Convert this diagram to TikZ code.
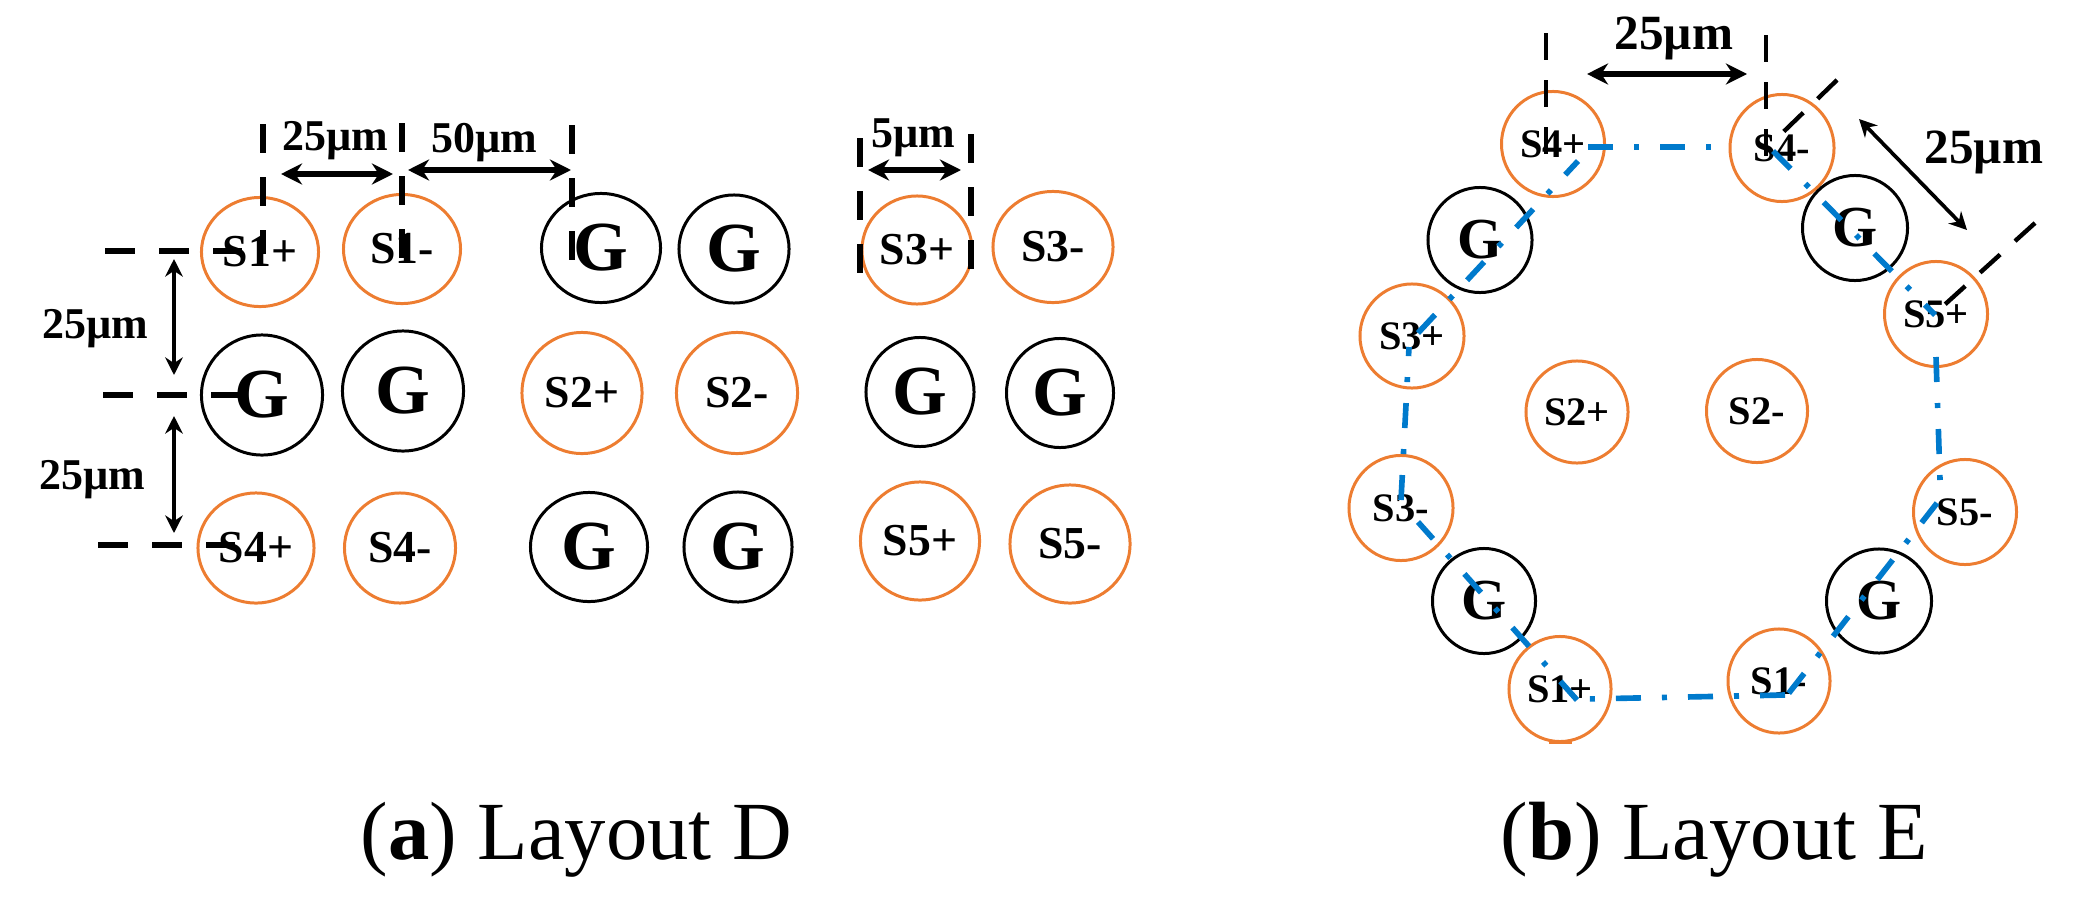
\documentclass[tikz,border=0pt]{standalone}
\usepackage{fontspec}
\setmainfont{Liberation Serif}
\usetikzlibrary{arrows.meta,shapes.geometric}
\definecolor{padorange}{RGB}{237,125,49}
\definecolor{ringblue}{RGB}{0,122,204}
\tikzset{
  % pad outlines
  pad/.style 2 args={ellipse, draw, line width=0.85pt, inner sep=0pt, minimum width=#1cm, minimum height=#2cm},
  sigd/.style 2 args={pad={#1}{#2}, draw=padorange, font=\fontsize{13}{13}\selectfont\bfseries},
  sige/.style 2 args={pad={#1}{#2}, draw=padorange, font=\fontsize{11.5}{12}\selectfont\bfseries},
  gndd/.style 2 args={pad={#1}{#2}, draw=black, font=\fontsize{20}{20}\selectfont\bfseries},
  gnde/.style 2 args={pad={#1}{#2}, draw=black, font=\fontsize{16.5}{17}\selectfont\bfseries},
  % dimension marks
  exth/.style={line width=1.9pt, dash pattern=on 0.3cm off 0.24cm},
  extv/.style={line width=1.5pt, dash pattern=on 0.29cm off 0.24cm},
  extring/.style={line width=1.25pt, dash pattern=on 0.27cm off 0.2cm},
  dimarr/.style={{Stealth[length=6pt,width=6pt]}-{Stealth[length=6pt,width=6pt]}, line width=1.7pt},
  dimthin/.style={{Stealth[length=5pt,width=5pt]}-{Stealth[length=5pt,width=5pt]}, line width=1.05pt},
  dimlab/.style={font=\fontsize{12.5}{13}\selectfont\bfseries, inner sep=0pt},
  dimlabe/.style={font=\fontsize{14}{14}\selectfont\bfseries, inner sep=0pt},
  ringline/.style={ringblue, line width=1.6pt, dash pattern=on 0.25cm off 0.21cm on 0.05cm off 0.21cm},
  caption/.style={font=\fontsize{23.5}{24}\selectfont, inner sep=0pt, anchor=base west},
}
\begin{document}
\begin{tikzpicture}[x=0.01cm, y=-0.01cm]
    \useasboundingbox (0,0) rectangle (2073,903);

    % Layout D: pads
    \node[sigd={1.17}{1.09}] (s1p) at (260,252) {S1+};
    \node[sigd={1.17}{1.09}] (s1m) at (402,249) {S1-};
    \node[gndd={1.19}{1.09}] (ga1) at (601,248) {G};
    \node[gndd={1.10}{1.08}] (ga2) at (734,249) {G};
    \node[sigd={1.10}{1.08}] (s3p) at (917,250) {S3+};
    \node[sigd={1.20}{1.11}] (s3m) at (1053,247) {S3-};

    \node[gndd={1.21}{1.20}] (gb1) at (262,395) {G};
    \node[gndd={1.21}{1.20}] (gb2) at (403,391) {G};
    \node[sigd={1.20}{1.21}] (s2p) at (582,393) {S2+};
    \node[sigd={1.21}{1.21}] (s2m) at (737,393) {S2-};
    \node[gndd={1.08}{1.09}] (gb3) at (920,392) {G};
    \node[gndd={1.07}{1.09}] (gb4) at (1060,393) {G};

    \node[sigd={1.16}{1.10}] (s4p) at (256,548) {S4+};
    \node[sigd={1.11}{1.10}] (s4m) at (400,548) {S4-};
    \node[gndd={1.17}{1.09}] (gc1) at (589,547) {G};
    \node[gndd={1.08}{1.10}] (gc2) at (738,547) {G};
    \node[sigd={1.19}{1.18}] (s5p) at (920,541) {S5+};
    \node[sigd={1.20}{1.18}] (s5m) at (1070,544) {S5-};

    % Layout D: extension lines
    \coordinate (ha1) at (105,251);  \coordinate (ha2) at (242,251);
    \coordinate (hb1) at (103,395);  \coordinate (hb2) at (241,395);
    \coordinate (hc1) at (98,545);   \coordinate (hc2) at (235,545);
    \draw[exth] (ha1) -- (ha2);
    \draw[exth] (hb1) -- (hb2);
    \draw[exth] (hc1) -- (hc2);
    \coordinate (va1) at (263,124);  \coordinate (va2) at (263,254);
    \coordinate (vb1) at (402,123);  \coordinate (vb2) at (402,259);
    \coordinate (vc1) at (572,125);  \coordinate (vc2) at (572,261);
    \coordinate (vd1) at (860,138);  \coordinate (vd2) at (860,274);
    \coordinate (ve1) at (971,134);  \coordinate (ve2) at (971,270);
    \draw[extv] (va1) -- (va2);
    \draw[extv] (vb1) -- (vb2);
    \draw[extv] (vc1) -- (vc2);
    \draw[extv] (vd1) -- (vd2);
    \draw[extv] (ve1) -- (ve2);

    % Layout D: dimensions
    \coordinate (da1) at (281,174);  \coordinate (da2) at (393,174);
    \coordinate (db1) at (408,170);  \coordinate (db2) at (571,170);
    \coordinate (dc1) at (868,170);  \coordinate (dc2) at (961,170);
    \coordinate (dd1) at (174,259);  \coordinate (dd2) at (174,375);
    \coordinate (de1) at (174,416);  \coordinate (de2) at (174,533);
    \draw[dimarr] (da1) -- (da2);
    \draw[dimarr] (db1) -- (db2);
    \draw[dimarr] (dc1) -- (dc2);
    \draw[dimthin] (dd1) -- (dd2);
    \draw[dimthin] (de1) -- (de2);
    \node[dimlab] (la) at (335,141) {25µm};
    \node[dimlab] (lb) at (484,143) {50µm};
    \node[dimlab] (lc) at (913,138) {5µm};
    \node[dimlab] (ld) at (95,329) {25µm};
    \node[dimlab] (le) at (92,480) {25µm};

    % Layout E: pads
    \node[sige={1.03}{1.05}] (t4p) at (1553,144) {S4+};
    \node[sige={1.04}{1.07}] (t4m) at (1782,148) {S4-};
    \node[gnde={1.04}{1.05}] (gr1) at (1480,240) {G};
    \node[gnde={1.05}{1.05}] (gr2) at (1855,228) {G};
    \node[sige={1.03}{1.05}] (t5p) at (1936,314) {S5+};
    \node[sige={1.04}{1.04}] (t3p) at (1412,336) {S3+};
    \node[sige={1.02}{1.02}] (t2p) at (1577,412) {S2+};
    \node[sige={1.01}{1.03}] (t2m) at (1757,411) {S2-};
    \node[sige={1.04}{1.05}] (t3m) at (1401,508) {S3-};
    \node[sige={1.03}{1.05}] (t5m) at (1965,512) {S5-};
    \node[gnde={1.03}{1.05}] (gr3) at (1484,601) {G};
    \node[gnde={1.05}{1.04}] (gr4) at (1879,601) {G};
    \node[sige={1.02}{1.05}] (t1p) at (1560,689) {S1+};
    \node[sige={1.02}{1.04}] (t1m) at (1779,681) {S1-};

    % Layout E: dash-dot ring, one side at a time
    \coordinate (r1a) at (1588,147);  \coordinate (r1b) at (1712,147);
    \coordinate (r2a) at (1773,151);  \coordinate (r2b) at (1935,315);
    \coordinate (r3a) at (1936,357);  \coordinate (r3b) at (1940,480);
    \coordinate (r4a) at (1937,503);  \coordinate (r4b) at (1785,698);
    \coordinate (r5a) at (1785,695);  \coordinate (r5b) at (1586,699);
    \coordinate (r6a) at (1577,700);  \coordinate (r6b) at (1418,522);
    \coordinate (r7a) at (1401,500);  \coordinate (r7b) at (1409,347);
    \coordinate (r8a) at (1418,333);  \coordinate (r8b) at (1578,161);
    \draw[ringline] (r1a) -- (r1b);
    \draw[ringline] (r2a) -- (r2b);
    \draw[ringline] (r3a) -- (r3b);
    \draw[ringline] (r4a) -- (r4b);
    \draw[ringline] (r5a) -- (r5b);
    \draw[ringline] (r6a) -- (r6b);
    \draw[ringline] (r7a) -- (r7b);
    \draw[ringline] (r8a) -- (r8b);

    % Layout E: extension lines
    \coordinate (wa1) at (1546,33);   \coordinate (wa2) at (1546,157);
    \coordinate (wb1) at (1766,35);   \coordinate (wb2) at (1766,157);
    \coordinate (wc1) at (1837,80);   \coordinate (wc2) at (1775,140);
    \coordinate (wd1) at (2035,223);  \coordinate (wd2) at (1931,317);
    \draw[extring] (wa1) -- (wa2);
    \draw[extring] (wb1) -- (wb2);
    \draw[extring] (wc1) -- (wc2);
    \draw[extring] (wd1) -- (wd2);

    % Layout E: dimensions
    \coordinate (de3) at (1587,74);   \coordinate (de4) at (1747,74);
    \coordinate (de5) at (1859,119);  \coordinate (de6) at (1967,230);
    \draw[dimarr] (de3) -- (de4);
    \draw[dimthin] (de5) -- (de6);
    \node[dimlabe] (lf) at (1674,38) {25µm};
    \node[dimlabe] (lg) at (1984,152) {25µm};

    % stray mark under S1+
    \coordinate (ma) at (1549,742);  \coordinate (mb) at (1572,742);
    \draw[padorange, line width=1.2pt] (ma) -- (mb);

    % Captions
    \node[caption] (capa) at (360,859) {(\textbf{a}) Layout D};
    \node[caption] (capb) at (1500,859) {(\textbf{b}) Layout E};
\end{tikzpicture}
\end{document}
